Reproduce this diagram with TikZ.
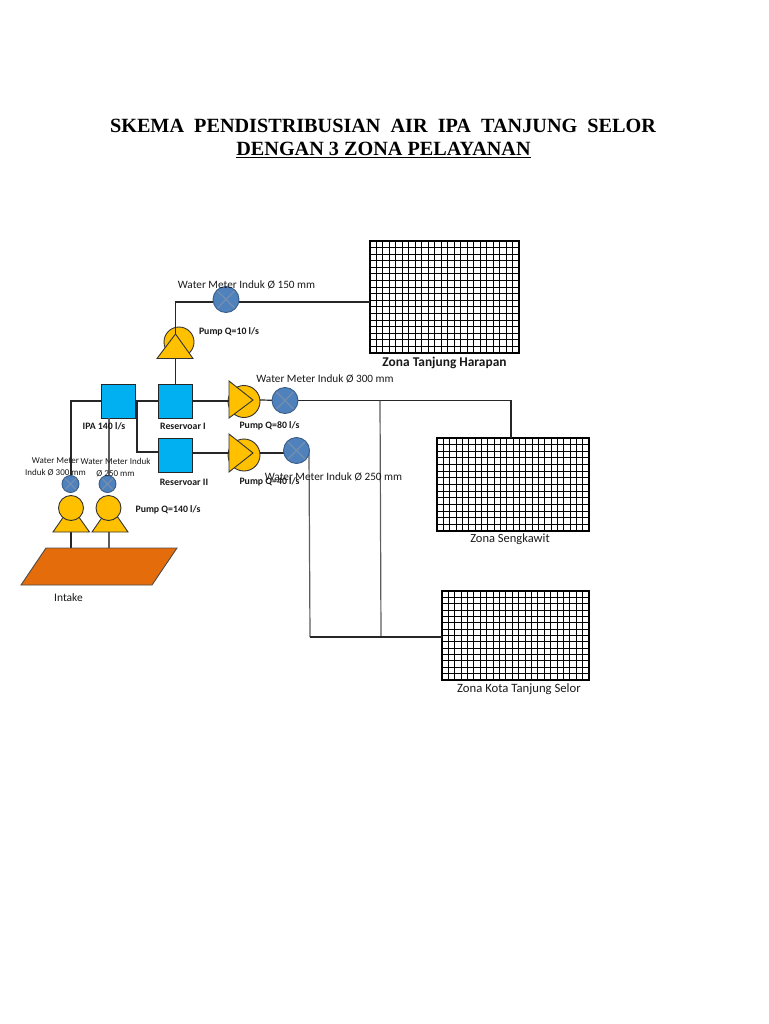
\documentclass[tikz,border=0pt]{standalone}
\usepackage{fontspec}
\setmainfont{Liberation Serif}
\newfontfamily\lbl{Carlito}
\usetikzlibrary{calc}
\definecolor{wire}{HTML}{262626}
\definecolor{sq}{HTML}{00B0F0}
\definecolor{pumpc}{HTML}{FFC000}
\definecolor{meter}{HTML}{4F81BD}
\definecolor{meterl}{HTML}{385D8A}
\definecolor{intake}{HTML}{E46C0A}
\tikzset{
  x=1pt,y=-1pt,
  wireline/.style={draw=wire,line width=1.2pt},
  greyline/.style={draw=wire!75,line width=1.2pt},
  tank/.style={draw=wire,fill=sq,line width=0.9pt,minimum size=34pt,inner sep=0pt,outer sep=0pt},
  pumpbody/.style={draw=black!80,fill=pumpc,line width=0.9pt,line join=miter},
  pumpround/.style={circle,pumpbody,inner sep=0pt,outer sep=0pt},
  metercirc/.style={circle,fill=meter,draw=meterl,line width=0.9pt,inner sep=0pt,outer sep=0pt,
    path picture={\draw[meterl!70!white,line width=1.3pt]
      (path picture bounding box.north west)--(path picture bounding box.south east)
      (path picture bounding box.north east)--(path picture bounding box.south west);}},
  zone/.style={draw=black,line width=2pt,inner sep=0pt,outer sep=0pt,anchor=north west},
  gridline/.style={draw=black,line width=1pt},
  titletext/.style={font=\fontsize{20.2}{22}\selectfont\bfseries,inner sep=0pt},
  smalllabel/.style={font=\lbl\fontsize{#1}{#1}\selectfont\bfseries,inner sep=0pt,text=black!90,align=center},
  plainlabel/.style={font=\lbl\fontsize{#1}{12}\selectfont,inner sep=0pt,text=black!90,align=center},
}
\newcommand{\zonegrid}[3]{%
  \foreach \i in {1,...,#2}{\draw[gridline] ($(#1.north west)!{\i/#2}!(#1.north east)$) -- ($(#1.south west)!{\i/#2}!(#1.south east)$);}
  \foreach \j in {1,...,#3}{\draw[gridline] ($(#1.north west)!{\j/#3}!(#1.south west)$) -- ($(#1.north east)!{\j/#3}!(#1.south east)$);}
}
\begin{document}
\begin{tikzpicture}
\useasboundingbox (0,0) rectangle (768,1024);
% titles
\node[titletext] (t1) at (383,126) {SKEMA\ \ PENDISTRIBUSIAN\ \ AIR\ \ IPA\ \ TANJUNG\ \ SELOR};
\node[titletext] (t2) at (383.5,150) {\underline{DENGAN 3 ZONA PELAYANAN}};
% zones
\node[zone,minimum width=149pt,minimum height=112pt] (zh) at (370,241) {};
\node[zone,minimum width=152pt,minimum height=93pt] (zs) at (437,438) {};
\node[zone,minimum width=147pt,minimum height=89pt] (zk) at (442,591) {};
\zonegrid{zh}{23}{17}
\zonegrid{zs}{24}{14}
\zonegrid{zk}{23}{14}
% tanks
\node[tank] (ipa) at (118.5,401) {};
\node[tank] (r1) at (175.5,401) {};
\node[tank] (r2) at (175.5,455.5) {};
% coordinates of pump triangles
\coordinate (ptA) at (175.5,334); \coordinate (plA) at (157,358.5); \coordinate (prA) at (193,358.5);
\coordinate (ptB) at (253,400); \coordinate (puB) at (229,381); \coordinate (pdB) at (229,418);
\coordinate (ptC) at (253,453); \coordinate (puC) at (229,434); \coordinate (pdC) at (229,472);
\coordinate (ptD) at (71,506); \coordinate (plD) at (53,532); \coordinate (prD) at (89.5,532);
\coordinate (ptE) at (110,506); \coordinate (plE) at (92,532); \coordinate (prE) at (128,532);
\coordinate (baseA) at (175.5,358.5);
\coordinate (baseD) at (71,532);
\coordinate (baseE) at (109,532);
\coordinate (bendA) at (175.5,302);
\coordinate (intD) at (71,548);
\coordinate (intE) at (109,548);
\coordinate (ipaL) at (71,401);
\coordinate (ipaJ) at (137,401);
\coordinate (ipaJd) at (137,452);
\coordinate (drop2) at (109,470);
\coordinate (t80) at (380,400.5);
\coordinate (t80e) at (511,400.5);
\coordinate (k1) at (310,637);
\coordinate (k2) at (381,637);
% meters and pump circles
\node[pumpround,minimum size=30pt] (pA) at (179,342) {};
\node[pumpround,minimum size=32pt] (pB) at (244,401.5) {};
\node[pumpround,minimum size=32pt] (pC) at (244,455) {};
% connectors
\draw[wireline] (ptA) -- (bendA) -- (bendA -| zh.west);
\draw[wireline] (baseA) -- (r1.north);
\draw[wireline] (ipa.east) -- (r1.west);
\draw[wireline] (ipaJ) -- (ipaJd) -- (r2.west |- ipaJd);
\draw[wireline] (ipa.west) -- (ipaL) -- (71,476);
\draw[greyline] (ipa.south -| drop2) -- (drop2 |- 0,476);
\draw[wireline] (r1.east) -- (puB |- r1.east);
\draw[wireline] (r2.east |- ptC) -- (pdC |- ptC);
\draw[wireline] (pB.east |- ptB) -- (285,400.5);
\draw[wireline] (pC.east |- ptC) -- (296.5,453);
\draw[wireline] (285,400.5) -- (t80e) -- (zs.north -| t80e);
\draw[greyline] (t80) -- (k2);
\draw[greyline] (309,452) -- (k1);
\draw[wireline] (k1) -- (k1 -| zk.west);
\draw[wireline] (baseD) -- (intD);
\draw[greyline] (baseE) -- (intE);
% meters over the lines
\node[metercirc,minimum size=26pt] (m150) at (226,299.5) {};
\node[metercirc,minimum size=26pt] (m300) at (285,400.5) {};
\node[metercirc,minimum size=26pt] (m250) at (296.5,450.5) {};
\node[metercirc,minimum size=17pt] (ms1) at (70.5,484) {};
\node[metercirc,minimum size=17pt] (ms2) at (107.5,484) {};
% pump triangles over circles
\draw[pumpbody] (ptA) -- (prA) -- (plA) -- cycle;
\draw[pumpbody] (ptB) -- (puB) -- (pdB) -- cycle;
\draw[pumpbody] (ptC) -- (puC) -- (pdC) -- cycle;
\draw[pumpbody] (ptD) -- (prD) -- (plD) -- cycle;
\draw[pumpbody] (ptE) -- (prE) -- (plE) -- cycle;
\node[pumpround,minimum width=21pt,minimum height=25pt] (pD) at (71,508) {};
\node[pumpround,minimum width=21pt,minimum height=25pt] (pE) at (108.5,508) {};
% intake
\draw[fill=intake,draw=black!70,line width=0.9pt] (46,548) -- (177,548) -- (152,585) -- (21,585) -- cycle;
\node[plainlabel=11.5] (lint) at (68.5,598) {Intake};
% labels
\node[plainlabel=11.25] (l150) at (246.5,284.5) {Water Meter Induk Ø 150 mm};
\node[plainlabel=11.25] (l300) at (325,379) {Water Meter Induk Ø 300 mm};
\node[plainlabel=11.25] (l250) at (333.5,476.5) {Water Meter Induk Ø 250 mm};
\node[smalllabel=9.8] (lp10) at (229,332) {Pump Q=10 l/s};
\node[smalllabel=9.8] (lp80) at (269.5,426) {Pump Q=80 l/s};
\node[smalllabel=9.8] (lp40) at (269.5,482) {Pump Q=40 l/s};
\node[smalllabel=9.8] (lp140) at (168,510) {Pump Q=140 l/s};
\node[smalllabel=9.8] (lipa) at (104,426) {IPA 140 l/s};
\node[smalllabel=9.8] (lr1) at (183,426) {Reservoar I};
\node[smalllabel=9.8] (lr2) at (184,482) {Reservoar II};
\node[plainlabel=9] (lw1) at (55.5,467) {Water Meter\\Induk Ø 300 mm};
\node[plainlabel=9] (lw2) at (115.5,468) {Water Meter Induk\\Ø 250 mm};
\node[smalllabel=13.4] (lzh) at (444.5,363) {Zona Tanjung Harapan};
\node[plainlabel=12.5] (lzs) at (510,539.5) {Zona Sengkawit};
\node[plainlabel=12.7] (lzk) at (519,689.5) {Zona Kota Tanjung Selor};
\end{tikzpicture}
\end{document}
